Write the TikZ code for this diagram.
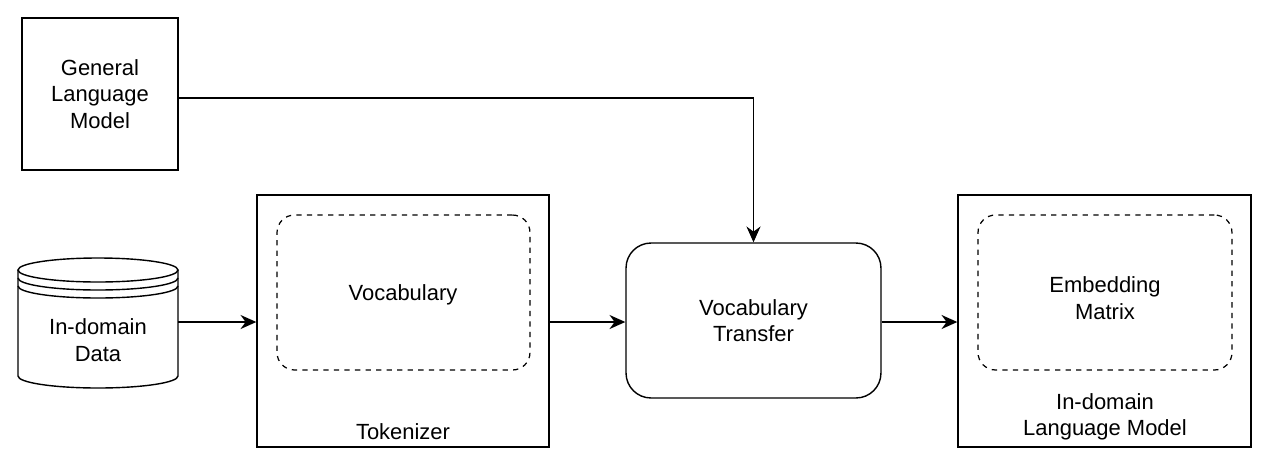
\documentclass[tikz,border=0pt]{standalone}
\usepackage{fontspec}
\setmainfont{Liberation Sans}
\usetikzlibrary{arrows.meta}
\begin{document}
\begin{tikzpicture}[x=0.02cm,y=-0.02cm,
  txt/.style={font=\fontsize{12.5}{15}\selectfont,align=center},
  box/.style={draw,line width=0.8pt},
  inner/.style={draw,dashed,rounded corners=0.35cm,line width=0.7pt},
  arr/.style={-{Stealth[length=9pt,width=8pt]},line width=0.8pt}]
\useasboundingbox (0,0) rectangle (1269,464);
% General language model
\node[box,txt,minimum width=3.12cm,minimum height=3.04cm] (glm) at (100,94) {General\\Language\\Model};
% cylinder
\draw[line width=0.8pt] (18,270) -- (18,376) arc[start angle=180,end angle=0,x radius=80,y radius=12] -- (178,270);
\draw[line width=0.8pt] (98,270) ellipse[x radius=80,y radius=12];
\draw[line width=0.8pt] (18,278) arc[start angle=180,end angle=0,x radius=80,y radius=12];
\draw[line width=0.8pt] (18,286) arc[start angle=180,end angle=0,x radius=80,y radius=12];
\node[txt] (cyltxt) at (98,340) {In-domain\\Data};
\coordinate (cylr) at (178,322);
% tokenizer
\node[box,minimum width=5.84cm,minimum height=5.04cm] (tok) at (403,321) {};
\node[inner,minimum width=5.06cm,minimum height=3.1cm] (voc) at (403.5,292.5) {};
\node[txt] at (403,295) {Vocabulary};
\node[txt] at (403,432) {Tokenizer};
% transfer
\node[box,rounded corners=0.5cm,txt,minimum width=5.1cm,minimum height=3.1cm] (vt) at (753.5,320.5) {Vocabulary\\Transfer};
% right model
\node[box,minimum width=5.86cm,minimum height=5.04cm] (lm) at (1104.5,321) {};
\node[inner,minimum width=5.08cm,minimum height=3.1cm] (emb) at (1105,292.5) {};
\node[txt] at (1105,298) {Embedding\\Matrix};
\node[txt] at (1105,417) {In-domain\\Language Model};
% arrows
\draw[arr] (glm.east |- 0,98) -| (vt.north);
\draw[arr] (cylr) -- (cylr -| tok.west);
\draw[arr] (tok.east |- 0,322) -- (vt.west |- 0,322);
\draw[arr] (vt.east |- 0,322) -- (lm.west |- 0,322);
\end{tikzpicture}
\end{document}
